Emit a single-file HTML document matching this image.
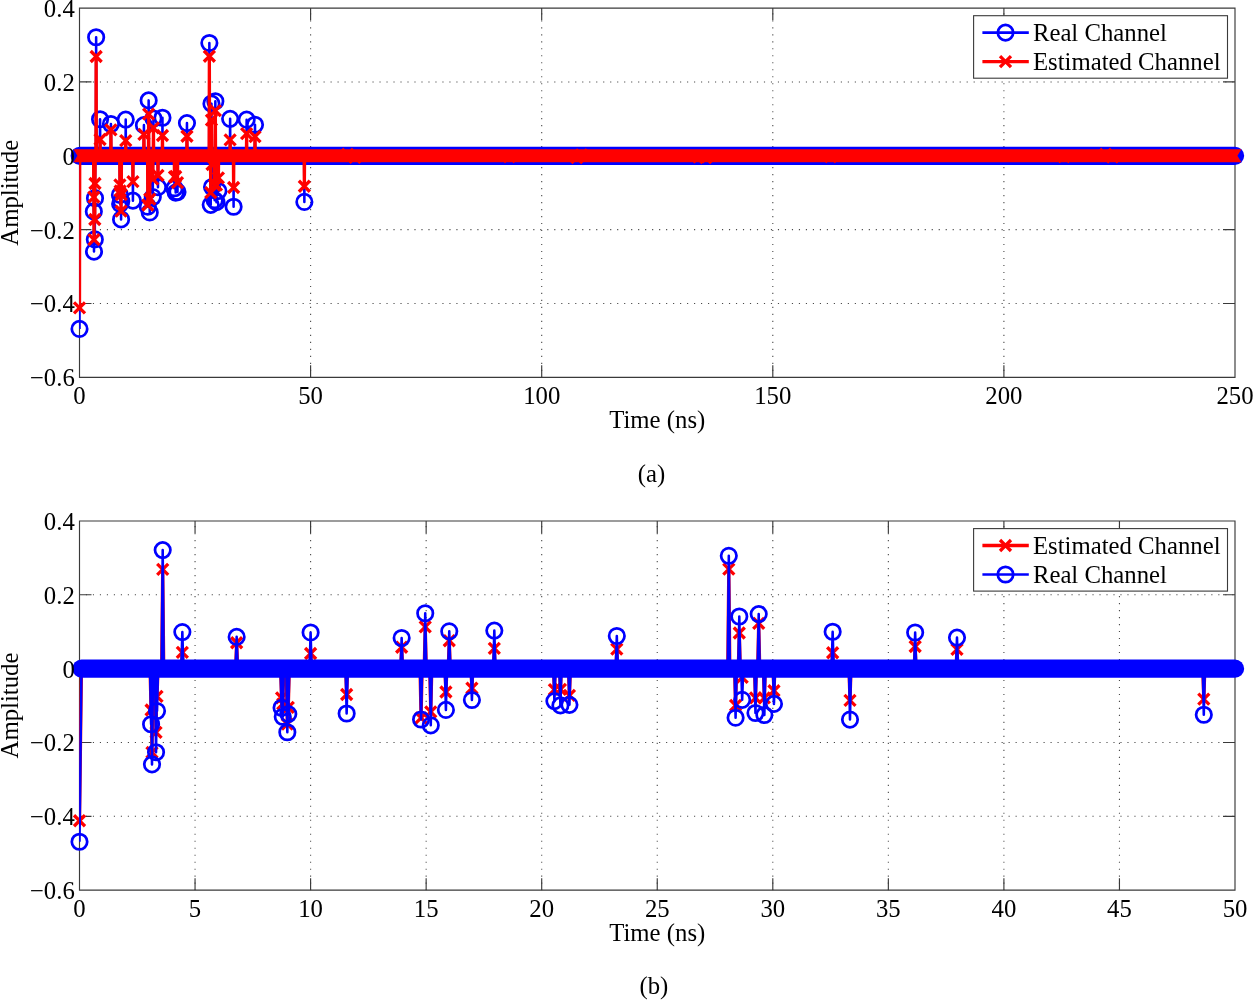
<!DOCTYPE html>
<html><head><meta charset="utf-8"><title>Channel estimation</title>
<style>html,body{margin:0;padding:0;background:#fff}svg{display:block}text{font-family:"Liberation Serif", "Times New Roman", serif;font-size:24.75px;fill:#000}</style>
</head><body>
<svg width="1253" height="1000" viewBox="0 0 1253 1000">
<rect width="1253" height="1000" fill="#fff"/>
<clipPath id="ca"><rect x="79.1" y="8.1" width="1156.3" height="369.2"/></clipPath>
<path d="M310.6 377.3V8.1M541.7 377.3V8.1M772.8 377.3V8.1M1003.9 377.3V8.1M79.5 81.94H1235M79.5 155.78H1235M79.5 229.62H1235M79.5 303.46H1235" fill="none" stroke="#4a4a4a" stroke-width="1.1" stroke-dasharray="1.15 5.84" stroke-dashoffset="0.6"/>
<path d="M79.5 8.1H1235V377.3H79.5zM310.6 377.3v-12M310.6 8.1v12M541.7 377.3v-12M541.7 8.1v12M772.8 377.3v-12M772.8 8.1v12M1003.9 377.3v-12M1003.9 8.1v12M79.5 81.94h12M1235 81.94h-12M79.5 155.78h12M1235 155.78h-12M79.5 229.62h12M1235 229.62h-12M79.5 303.46h12M1235 303.46h-12" fill="none" stroke="#3a3a3a" stroke-width="1.15"/>
<g fill="none" stroke="#0000ff" stroke-width="2.55" stroke-linejoin="round"><path clip-path="url(#ca)" d="M79.5 328.93L79.71 155.78M93.61 155.78L93.82 211.42L94.03 155.78M93.79 155.78L94 251.55L94.21 155.78M94.6 155.78L94.81 239.4L95.02 155.78M94.79 155.78L95 198.16L95.21 155.78M95.93 155.78L96.14 37.27L96.35 155.78M99.86 155.78L100.07 119.23L100.28 155.78M110.72 155.78L110.93 124.03L111.14 155.78M119.71 155.78L119.91 194.92L120.12 155.78M119.94 155.78L120.15 203.92L120.36 155.78M120.86 155.78L121.07 219.39L121.27 155.78M121.05 155.78L121.26 201.27L121.46 155.78M125.51 155.78L125.72 119.6L125.93 155.78M132.72 155.78L132.93 200.64L133.14 155.78M143.72 155.78L143.93 125.14L144.14 155.78M147.61 155.78L147.81 206.66L148.02 155.78M148.44 155.78L148.65 100.4L148.85 155.78M149.55 155.78L149.75 212.45L149.96 155.78M152.57 155.78L152.78 197.06L152.99 155.78M153.24 155.78L153.45 118.49L153.66 155.78M157.77 155.78L157.98 187.16L158.19 155.78M162.26 155.78L162.46 117.75L162.67 155.78M174.27 155.78L174.48 188.27L174.69 155.78M175.48 155.78L175.68 192.55L175.89 155.78M177.28 155.78L177.49 191.96L177.69 155.78M186.75 155.78L186.96 123.11L187.17 155.78M209.15 155.78L209.36 42.99L209.57 155.78M210.51 155.78L210.72 204.85L210.93 155.78M211.25 155.78L211.46 103.65L211.67 155.78M211.83 155.78L212.04 186.98L212.24 155.78M214.49 155.78L214.69 200.16L214.9 155.78M215.13 155.78L215.34 101.25L215.55 155.78M216.26 155.78L216.47 202.15L216.68 155.78M218.18 155.78L218.39 191.04L218.6 155.78M229.92 155.78L230.13 118.86L230.34 155.78M233.39 155.78L233.6 206.73L233.81 155.78M246.42 155.78L246.63 119.67L246.84 155.78M254.79 155.78L255 124.77L255.21 155.78M304.15 155.78L304.36 201.93L304.57 155.78"/><circle cx="79.5" cy="328.93" r="7.7" stroke-width="2.75"/><circle cx="93.82" cy="211.42" r="7.7" stroke-width="2.75"/><circle cx="94" cy="251.55" r="7.7" stroke-width="2.75"/><circle cx="94.81" cy="239.4" r="7.7" stroke-width="2.75"/><circle cx="95" cy="198.16" r="7.7" stroke-width="2.75"/><circle cx="96.14" cy="37.27" r="7.7" stroke-width="2.75"/><circle cx="100.07" cy="119.23" r="7.7" stroke-width="2.75"/><circle cx="110.93" cy="124.03" r="7.7" stroke-width="2.75"/><circle cx="119.91" cy="194.92" r="7.7" stroke-width="2.75"/><circle cx="120.15" cy="203.92" r="7.7" stroke-width="2.75"/><circle cx="121.07" cy="219.39" r="7.7" stroke-width="2.75"/><circle cx="121.26" cy="201.27" r="7.7" stroke-width="2.75"/><circle cx="125.72" cy="119.6" r="7.7" stroke-width="2.75"/><circle cx="132.93" cy="200.64" r="7.7" stroke-width="2.75"/><circle cx="143.93" cy="125.14" r="7.7" stroke-width="2.75"/><circle cx="147.81" cy="206.66" r="7.7" stroke-width="2.75"/><circle cx="148.65" cy="100.4" r="7.7" stroke-width="2.75"/><circle cx="149.75" cy="212.45" r="7.7" stroke-width="2.75"/><circle cx="152.78" cy="197.06" r="7.7" stroke-width="2.75"/><circle cx="153.45" cy="118.49" r="7.7" stroke-width="2.75"/><circle cx="157.98" cy="187.16" r="7.7" stroke-width="2.75"/><circle cx="162.46" cy="117.75" r="7.7" stroke-width="2.75"/><circle cx="174.48" cy="188.27" r="7.7" stroke-width="2.75"/><circle cx="175.68" cy="192.55" r="7.7" stroke-width="2.75"/><circle cx="177.49" cy="191.96" r="7.7" stroke-width="2.75"/><circle cx="186.96" cy="123.11" r="7.7" stroke-width="2.75"/><circle cx="209.36" cy="42.99" r="7.7" stroke-width="2.75"/><circle cx="210.72" cy="204.85" r="7.7" stroke-width="2.75"/><circle cx="211.46" cy="103.65" r="7.7" stroke-width="2.75"/><circle cx="212.04" cy="186.98" r="7.7" stroke-width="2.75"/><circle cx="214.69" cy="200.16" r="7.7" stroke-width="2.75"/><circle cx="215.34" cy="101.25" r="7.7" stroke-width="2.75"/><circle cx="216.47" cy="202.15" r="7.7" stroke-width="2.75"/><circle cx="218.39" cy="191.04" r="7.7" stroke-width="2.75"/><circle cx="230.13" cy="118.86" r="7.7" stroke-width="2.75"/><circle cx="233.6" cy="206.73" r="7.7" stroke-width="2.75"/><circle cx="246.63" cy="119.67" r="7.7" stroke-width="2.75"/><circle cx="255" cy="124.77" r="7.7" stroke-width="2.75"/><circle cx="304.36" cy="201.93" r="7.7" stroke-width="2.75"/></g><path d="M79.71 155.78H1235" stroke="#0000ff" stroke-width="18.3" stroke-linecap="round" fill="none"/>
<g fill="none" stroke="#ff0000" stroke-width="3.3" stroke-linejoin="round"><path clip-path="url(#ca)" d="M79.5 307.89L79.71 155.78M93.61 155.78L93.82 197.13L94.03 155.78M93.79 155.78L94 239.66L94.21 155.78M94.6 155.78L94.81 219.5L95.02 155.78M94.79 155.78L95 183.47L95.21 155.78M95.93 155.78L96.14 56.47L96.35 155.78M99.86 155.78L100.07 139.54L100.28 155.78M110.72 155.78L110.93 129.94L111.14 155.78M119.71 155.78L119.91 184.95L120.12 155.78M119.94 155.78L120.15 191.04L120.36 155.78M120.86 155.78L121.07 211.16L121.27 155.78M121.05 155.78L121.26 194.55L121.46 155.78M125.51 155.78L125.72 140.64L125.93 155.78M132.72 155.78L132.93 181.62L133.14 155.78M143.72 155.78L143.93 134.37L144.14 155.78M147.61 155.78L147.81 205.03L148.02 155.78M148.44 155.78L148.65 114.06L148.85 155.78M149.55 155.78L149.75 199.05L149.96 155.78M152.57 155.78L152.78 179.15L152.99 155.78M153.24 155.78L153.45 127.91L153.66 155.78M157.77 155.78L157.98 175.35L158.19 155.78M162.26 155.78L162.46 135.47L162.67 155.78M174.27 155.78L174.48 176.82L174.69 155.78M175.48 155.78L175.68 176.46L175.89 155.78M177.28 155.78L177.49 182.55L177.69 155.78M186.75 155.78L186.96 136.21L187.17 155.78M209.15 155.78L209.36 56.21L209.57 155.78M210.51 155.78L210.72 192.55L210.93 155.78M211.25 155.78L211.46 120.15L211.67 155.78M211.83 155.78L212.04 164.53L212.24 155.78M214.49 155.78L214.69 185.06L214.9 155.78M215.13 155.78L215.34 110.55L215.55 155.78M216.26 155.78L216.47 185.06L216.68 155.78M218.18 155.78L218.39 177.86L218.6 155.78M229.92 155.78L230.13 139.9L230.34 155.78M233.39 155.78L233.6 187.53L233.81 155.78M246.42 155.78L246.63 133.63L246.84 155.78M254.79 155.78L255 136.58L255.21 155.78M304.15 155.78L304.36 186.24L304.57 155.78M347.37 155.78L347.58 154.3L347.78 155.78M354.76 155.78L354.97 157.26L355.18 155.78M576.62 155.78L576.83 157.63L577.04 155.78M581.24 155.78L581.45 155.04L581.66 155.78M698.64 155.78L698.85 156.89L699.06 155.78M705.57 155.78L705.78 157.63L705.99 155.78M509.14 155.78L509.35 156.52L509.55 155.78M830.37 155.78L830.57 156.52L830.78 155.78M1063.78 155.78L1063.99 156.52L1064.19 155.78M1105.38 155.78L1105.58 154.3L1105.79 155.78M1112.31 155.78L1112.52 156.89L1112.72 155.78"/><path d="M74 302.39l11 11M74 313.39l11 -11"/><path d="M88.32 191.63l11 11M88.32 202.63l11 -11"/><path d="M88.5 234.16l11 11M88.5 245.16l11 -11"/><path d="M89.31 214l11 11M89.31 225l11 -11"/><path d="M89.5 177.97l11 11M89.5 188.97l11 -11"/><path d="M90.64 50.97l11 11M90.64 61.97l11 -11"/><path d="M94.57 134.04l11 11M94.57 145.04l11 -11"/><path d="M105.43 124.44l11 11M105.43 135.44l11 -11"/><path d="M114.41 179.45l11 11M114.41 190.45l11 -11"/><path d="M114.65 185.54l11 11M114.65 196.54l11 -11"/><path d="M115.57 205.66l11 11M115.57 216.66l11 -11"/><path d="M115.76 189.05l11 11M115.76 200.05l11 -11"/><path d="M120.22 135.14l11 11M120.22 146.14l11 -11"/><path d="M127.43 176.12l11 11M127.43 187.12l11 -11"/><path d="M138.43 128.87l11 11M138.43 139.87l11 -11"/><path d="M142.31 199.53l11 11M142.31 210.53l11 -11"/><path d="M143.15 108.56l11 11M143.15 119.56l11 -11"/><path d="M144.25 193.55l11 11M144.25 204.55l11 -11"/><path d="M147.28 173.65l11 11M147.28 184.65l11 -11"/><path d="M147.95 122.41l11 11M147.95 133.41l11 -11"/><path d="M152.48 169.85l11 11M152.48 180.85l11 -11"/><path d="M156.96 129.97l11 11M156.96 140.97l11 -11"/><path d="M168.98 171.32l11 11M168.98 182.32l11 -11"/><path d="M170.18 170.96l11 11M170.18 181.96l11 -11"/><path d="M171.99 177.05l11 11M171.99 188.05l11 -11"/><path d="M181.46 130.71l11 11M181.46 141.71l11 -11"/><path d="M203.86 50.71l11 11M203.86 61.71l11 -11"/><path d="M205.22 187.05l11 11M205.22 198.05l11 -11"/><path d="M205.96 114.65l11 11M205.96 125.65l11 -11"/><path d="M206.54 159.03l11 11M206.54 170.03l11 -11"/><path d="M209.19 179.56l11 11M209.19 190.56l11 -11"/><path d="M209.84 105.05l11 11M209.84 116.05l11 -11"/><path d="M210.97 179.56l11 11M210.97 190.56l11 -11"/><path d="M212.89 172.36l11 11M212.89 183.36l11 -11"/><path d="M224.63 134.4l11 11M224.63 145.4l11 -11"/><path d="M228.1 182.03l11 11M228.1 193.03l11 -11"/><path d="M241.13 128.13l11 11M241.13 139.13l11 -11"/><path d="M249.5 131.08l11 11M249.5 142.08l11 -11"/><path d="M298.86 180.74l11 11M298.86 191.74l11 -11"/><path d="M342.08 148.8l11 11M342.08 159.8l11 -11"/><path d="M349.47 151.76l11 11M349.47 162.76l11 -11"/><path d="M571.33 152.13l11 11M571.33 163.13l11 -11"/><path d="M575.95 149.54l11 11M575.95 160.54l11 -11"/><path d="M693.35 151.39l11 11M693.35 162.39l11 -11"/><path d="M700.28 152.13l11 11M700.28 163.13l11 -11"/><path d="M503.85 151.02l11 11M503.85 162.02l11 -11"/><path d="M825.07 151.02l11 11M825.07 162.02l11 -11"/><path d="M1058.49 151.02l11 11M1058.49 162.02l11 -11"/><path d="M1100.08 148.8l11 11M1100.08 159.8l11 -11"/><path d="M1107.02 151.39l11 11M1107.02 162.39l11 -11"/></g><path d="M73.51 149.23L77.41 155.78L73.51 162.33H1241.4L1237.4 155.78L1241.4 149.23z" fill="#ff0000"/>
<text x="79.5" y="404.3" text-anchor="middle">0</text>
<text x="310.6" y="404.3" text-anchor="middle">50</text>
<text x="541.7" y="404.3" text-anchor="middle">100</text>
<text x="772.8" y="404.3" text-anchor="middle">150</text>
<text x="1003.9" y="404.3" text-anchor="middle">200</text>
<text x="1235" y="404.3" text-anchor="middle">250</text>
<text x="74.8" y="17.1" text-anchor="end">0.4</text>
<text x="74.8" y="90.94" text-anchor="end">0.2</text>
<text x="74.8" y="164.78" text-anchor="end">0</text>
<text x="74.8" y="238.62" text-anchor="end">−0.2</text>
<text x="74.8" y="312.46" text-anchor="end">−0.4</text>
<text x="74.8" y="386.3" text-anchor="end">−0.6</text>
<text x="657.25" y="428" text-anchor="middle">Time (ns)</text>
<text x="651.5" y="482" text-anchor="middle">(a)</text>
<text transform="translate(17.7 192.7) rotate(-90)" text-anchor="middle">Amplitude</text>
<rect x="973.6" y="15.7" width="253.9" height="62.5" fill="#fff" stroke="#3a3a3a" stroke-width="1.1"/>
<g fill="none" stroke="#0000ff" stroke-width="2.55"><path d="M982.4 32.6H1028.8"/><circle cx="1005.5" cy="32.6" r="7.7" stroke-width="2.75"/></g>
<text x="1032.9" y="41.1">Real Channel</text>
<g fill="none" stroke="#ff0000" stroke-width="3.3"><path d="M982.4 61.6H1028.8"/><path d="M1000 56.1l11 11M1000 67.1l11 -11"/></g>
<text x="1032.9" y="70.1">Estimated Channel</text>
<clipPath id="cb"><rect x="79.1" y="520.95" width="1156.3" height="369.2"/></clipPath>
<path d="M195.05 890.15V520.95M310.6 890.15V520.95M426.15 890.15V520.95M541.7 890.15V520.95M657.25 890.15V520.95M772.8 890.15V520.95M888.35 890.15V520.95M1003.9 890.15V520.95M1119.45 890.15V520.95M79.5 594.79H1235M79.5 668.63H1235M79.5 742.47H1235M79.5 816.31H1235" fill="none" stroke="#4a4a4a" stroke-width="1.1" stroke-dasharray="1.15 5.84" stroke-dashoffset="0.6"/>
<path d="M79.5 520.95H1235V890.15H79.5zM195.05 890.15v-12M195.05 520.95v12M310.6 890.15v-12M310.6 520.95v12M426.15 890.15v-12M426.15 520.95v12M541.7 890.15v-12M541.7 520.95v12M657.25 890.15v-12M657.25 520.95v12M772.8 890.15v-12M772.8 520.95v12M888.35 890.15v-12M888.35 520.95v12M1003.9 890.15v-12M1003.9 520.95v12M1119.45 890.15v-12M1119.45 520.95v12M79.5 594.79h12M1235 594.79h-12M79.5 668.63h12M1235 668.63h-12M79.5 742.47h12M1235 742.47h-12M79.5 816.31h12M1235 816.31h-12" fill="none" stroke="#3a3a3a" stroke-width="1.15"/>
<g fill="none" stroke="#ff0000" stroke-width="3.3" stroke-linejoin="round"><path clip-path="url(#cb)" d="M79.5 820.74L81.45 668.63M150.05 668.63L151.09 709.98L152.13 668.63M150.96 668.63L152 752.51L153.04 668.63M155 668.63L156.04 732.35L157.08 668.63M155.97 668.63L157.01 696.32L158.05 668.63M161.66 668.63L162.7 569.32L163.74 668.63M181.3 668.63L182.34 652.39L183.38 668.63M235.61 668.63L236.65 642.79L237.69 668.63M280.53 668.63L281.57 697.8L282.61 668.63M281.71 668.63L282.75 703.89L283.79 668.63M286.29 668.63L287.33 724.01L288.37 668.63M287.24 668.63L288.28 707.4L289.32 668.63M309.56 668.63L310.6 653.49L311.64 668.63M345.61 668.63L346.65 694.47L347.69 668.63M400.61 668.63L401.65 647.22L402.69 668.63M420.03 668.63L421.07 717.88L422.11 668.63M424.19 668.63L425.23 626.91L426.27 668.63M429.73 668.63L430.77 711.9L431.81 668.63M444.87 668.63L445.91 692L446.95 668.63M448.22 668.63L449.26 640.76L450.3 668.63M470.87 668.63L471.91 688.2L472.95 668.63M493.28 668.63L494.32 648.32L495.36 668.63M553.37 668.63L554.41 689.67L555.45 668.63M559.38 668.63L560.42 689.31L561.46 668.63M568.39 668.63L569.43 695.4L570.47 668.63M615.77 668.63L616.81 649.06L617.85 668.63M727.76 668.63L728.8 569.06L729.84 668.63M734.55 668.63L735.59 705.4L736.63 668.63M738.25 668.63L739.29 633L740.33 668.63M741.14 668.63L742.18 677.38L743.22 668.63M754.43 668.63L755.47 697.91L756.51 668.63M757.66 668.63L758.7 623.4L759.74 668.63M763.32 668.63L764.36 697.91L765.4 668.63M772.92 668.63L773.96 690.71L775 668.63M831.61 668.63L832.65 652.75L833.69 668.63M848.95 668.63L849.99 700.38L851.03 668.63M914.12 668.63L915.16 646.48L916.2 668.63M955.95 668.63L956.99 649.43L958.03 668.63M1202.76 668.63L1203.8 699.09L1204.84 668.63"/><path d="M74 815.24l11 11M74 826.24l11 -11"/><path d="M145.59 704.48l11 11M145.59 715.48l11 -11"/><path d="M146.5 747.01l11 11M146.5 758.01l11 -11"/><path d="M150.54 726.85l11 11M150.54 737.85l11 -11"/><path d="M151.51 690.82l11 11M151.51 701.82l11 -11"/><path d="M157.2 563.82l11 11M157.2 574.82l11 -11"/><path d="M176.84 646.89l11 11M176.84 657.89l11 -11"/><path d="M231.15 637.29l11 11M231.15 648.29l11 -11"/><path d="M276.07 692.3l11 11M276.07 703.3l11 -11"/><path d="M277.25 698.39l11 11M277.25 709.39l11 -11"/><path d="M281.83 718.51l11 11M281.83 729.51l11 -11"/><path d="M282.78 701.9l11 11M282.78 712.9l11 -11"/><path d="M305.1 647.99l11 11M305.1 658.99l11 -11"/><path d="M341.15 688.97l11 11M341.15 699.97l11 -11"/><path d="M396.15 641.72l11 11M396.15 652.72l11 -11"/><path d="M415.57 712.38l11 11M415.57 723.38l11 -11"/><path d="M419.73 621.41l11 11M419.73 632.41l11 -11"/><path d="M425.27 706.4l11 11M425.27 717.4l11 -11"/><path d="M440.41 686.5l11 11M440.41 697.5l11 -11"/><path d="M443.76 635.26l11 11M443.76 646.26l11 -11"/><path d="M466.41 682.7l11 11M466.41 693.7l11 -11"/><path d="M488.82 642.82l11 11M488.82 653.82l11 -11"/><path d="M548.91 684.17l11 11M548.91 695.17l11 -11"/><path d="M554.92 683.81l11 11M554.92 694.81l11 -11"/><path d="M563.93 689.9l11 11M563.93 700.9l11 -11"/><path d="M611.31 643.56l11 11M611.31 654.56l11 -11"/><path d="M723.3 563.56l11 11M723.3 574.56l11 -11"/><path d="M730.09 699.9l11 11M730.09 710.9l11 -11"/><path d="M733.79 627.5l11 11M733.79 638.5l11 -11"/><path d="M736.68 671.88l11 11M736.68 682.88l11 -11"/><path d="M749.97 692.41l11 11M749.97 703.41l11 -11"/><path d="M753.2 617.9l11 11M753.2 628.9l11 -11"/><path d="M758.86 692.41l11 11M758.86 703.41l11 -11"/><path d="M768.46 685.21l11 11M768.46 696.21l11 -11"/><path d="M827.15 647.25l11 11M827.15 658.25l11 -11"/><path d="M844.49 694.88l11 11M844.49 705.88l11 -11"/><path d="M909.66 640.98l11 11M909.66 651.98l11 -11"/><path d="M951.49 643.93l11 11M951.49 654.93l11 -11"/><path d="M1198.3 693.59l11 11M1198.3 704.59l11 -11"/></g><path d="M75.25 662.08L79.15 668.63L75.25 675.18H1241.4L1237.4 668.63L1241.4 662.08z" fill="#ff0000"/>
<g fill="none" stroke="#0000ff" stroke-width="2.55" stroke-linejoin="round"><path clip-path="url(#cb)" d="M79.5 841.78L81.45 668.63M150.05 668.63L151.09 724.27L152.13 668.63M150.96 668.63L152 764.4L153.04 668.63M155 668.63L156.04 752.25L157.08 668.63M155.97 668.63L157.01 711.01L158.05 668.63M161.66 668.63L162.7 550.12L163.74 668.63M181.3 668.63L182.34 632.08L183.38 668.63M235.61 668.63L236.65 636.88L237.69 668.63M280.53 668.63L281.57 707.77L282.61 668.63M281.71 668.63L282.75 716.77L283.79 668.63M286.29 668.63L287.33 732.24L288.37 668.63M287.24 668.63L288.28 714.12L289.32 668.63M309.56 668.63L310.6 632.45L311.64 668.63M345.61 668.63L346.65 713.49L347.69 668.63M400.61 668.63L401.65 637.99L402.69 668.63M420.03 668.63L421.07 719.51L422.11 668.63M424.19 668.63L425.23 613.25L426.27 668.63M429.73 668.63L430.77 725.3L431.81 668.63M444.87 668.63L445.91 709.91L446.95 668.63M448.22 668.63L449.26 631.34L450.3 668.63M470.87 668.63L471.91 700.01L472.95 668.63M493.28 668.63L494.32 630.6L495.36 668.63M553.37 668.63L554.41 701.12L555.45 668.63M559.38 668.63L560.42 705.4L561.46 668.63M568.39 668.63L569.43 704.81L570.47 668.63M615.77 668.63L616.81 635.96L617.85 668.63M727.76 668.63L728.8 555.84L729.84 668.63M734.55 668.63L735.59 717.7L736.63 668.63M738.25 668.63L739.29 616.5L740.33 668.63M741.14 668.63L742.18 699.83L743.22 668.63M754.43 668.63L755.47 713.01L756.51 668.63M757.66 668.63L758.7 614.1L759.74 668.63M763.32 668.63L764.36 715L765.4 668.63M772.92 668.63L773.96 703.89L775 668.63M831.61 668.63L832.65 631.71L833.69 668.63M848.95 668.63L849.99 719.58L851.03 668.63M914.12 668.63L915.16 632.52L916.2 668.63M955.95 668.63L956.99 637.62L958.03 668.63M1202.76 668.63L1203.8 714.78L1204.84 668.63"/><circle cx="79.5" cy="841.78" r="7.7" stroke-width="2.75"/><circle cx="151.09" cy="724.27" r="7.7" stroke-width="2.75"/><circle cx="152" cy="764.4" r="7.7" stroke-width="2.75"/><circle cx="156.04" cy="752.25" r="7.7" stroke-width="2.75"/><circle cx="157.01" cy="711.01" r="7.7" stroke-width="2.75"/><circle cx="162.7" cy="550.12" r="7.7" stroke-width="2.75"/><circle cx="182.34" cy="632.08" r="7.7" stroke-width="2.75"/><circle cx="236.65" cy="636.88" r="7.7" stroke-width="2.75"/><circle cx="281.57" cy="707.77" r="7.7" stroke-width="2.75"/><circle cx="282.75" cy="716.77" r="7.7" stroke-width="2.75"/><circle cx="287.33" cy="732.24" r="7.7" stroke-width="2.75"/><circle cx="288.28" cy="714.12" r="7.7" stroke-width="2.75"/><circle cx="310.6" cy="632.45" r="7.7" stroke-width="2.75"/><circle cx="346.65" cy="713.49" r="7.7" stroke-width="2.75"/><circle cx="401.65" cy="637.99" r="7.7" stroke-width="2.75"/><circle cx="421.07" cy="719.51" r="7.7" stroke-width="2.75"/><circle cx="425.23" cy="613.25" r="7.7" stroke-width="2.75"/><circle cx="430.77" cy="725.3" r="7.7" stroke-width="2.75"/><circle cx="445.91" cy="709.91" r="7.7" stroke-width="2.75"/><circle cx="449.26" cy="631.34" r="7.7" stroke-width="2.75"/><circle cx="471.91" cy="700.01" r="7.7" stroke-width="2.75"/><circle cx="494.32" cy="630.6" r="7.7" stroke-width="2.75"/><circle cx="554.41" cy="701.12" r="7.7" stroke-width="2.75"/><circle cx="560.42" cy="705.4" r="7.7" stroke-width="2.75"/><circle cx="569.43" cy="704.81" r="7.7" stroke-width="2.75"/><circle cx="616.81" cy="635.96" r="7.7" stroke-width="2.75"/><circle cx="728.8" cy="555.84" r="7.7" stroke-width="2.75"/><circle cx="735.59" cy="717.7" r="7.7" stroke-width="2.75"/><circle cx="739.29" cy="616.5" r="7.7" stroke-width="2.75"/><circle cx="742.18" cy="699.83" r="7.7" stroke-width="2.75"/><circle cx="755.47" cy="713.01" r="7.7" stroke-width="2.75"/><circle cx="758.7" cy="614.1" r="7.7" stroke-width="2.75"/><circle cx="764.36" cy="715" r="7.7" stroke-width="2.75"/><circle cx="773.96" cy="703.89" r="7.7" stroke-width="2.75"/><circle cx="832.65" cy="631.71" r="7.7" stroke-width="2.75"/><circle cx="849.99" cy="719.58" r="7.7" stroke-width="2.75"/><circle cx="915.16" cy="632.52" r="7.7" stroke-width="2.75"/><circle cx="956.99" cy="637.62" r="7.7" stroke-width="2.75"/><circle cx="1203.8" cy="714.78" r="7.7" stroke-width="2.75"/></g><path d="M81.45 668.63H1235" stroke="#0000ff" stroke-width="18.3" stroke-linecap="round" fill="none"/>
<text x="79.5" y="917.15" text-anchor="middle">0</text>
<text x="195.05" y="917.15" text-anchor="middle">5</text>
<text x="310.6" y="917.15" text-anchor="middle">10</text>
<text x="426.15" y="917.15" text-anchor="middle">15</text>
<text x="541.7" y="917.15" text-anchor="middle">20</text>
<text x="657.25" y="917.15" text-anchor="middle">25</text>
<text x="772.8" y="917.15" text-anchor="middle">30</text>
<text x="888.35" y="917.15" text-anchor="middle">35</text>
<text x="1003.9" y="917.15" text-anchor="middle">40</text>
<text x="1119.45" y="917.15" text-anchor="middle">45</text>
<text x="1235" y="917.15" text-anchor="middle">50</text>
<text x="74.8" y="529.95" text-anchor="end">0.4</text>
<text x="74.8" y="603.79" text-anchor="end">0.2</text>
<text x="74.8" y="677.63" text-anchor="end">0</text>
<text x="74.8" y="751.47" text-anchor="end">−0.2</text>
<text x="74.8" y="825.31" text-anchor="end">−0.4</text>
<text x="74.8" y="899.15" text-anchor="end">−0.6</text>
<text x="657.25" y="941.2" text-anchor="middle">Time (ns)</text>
<text x="653.9" y="993.6" text-anchor="middle">(b)</text>
<text transform="translate(17.7 705.55) rotate(-90)" text-anchor="middle">Amplitude</text>
<rect x="973.6" y="528.6" width="253.9" height="62.5" fill="#fff" stroke="#3a3a3a" stroke-width="1.1"/>
<g fill="none" stroke="#ff0000" stroke-width="3.3"><path d="M982.4 545.5H1028.8"/><path d="M1000 540l11 11M1000 551l11 -11"/></g>
<text x="1032.9" y="554">Estimated Channel</text>
<g fill="none" stroke="#0000ff" stroke-width="2.55"><path d="M982.4 574.5H1028.8"/><circle cx="1005.5" cy="574.5" r="7.7" stroke-width="2.75"/></g>
<text x="1032.9" y="583">Real Channel</text>
</svg>
</body></html>
